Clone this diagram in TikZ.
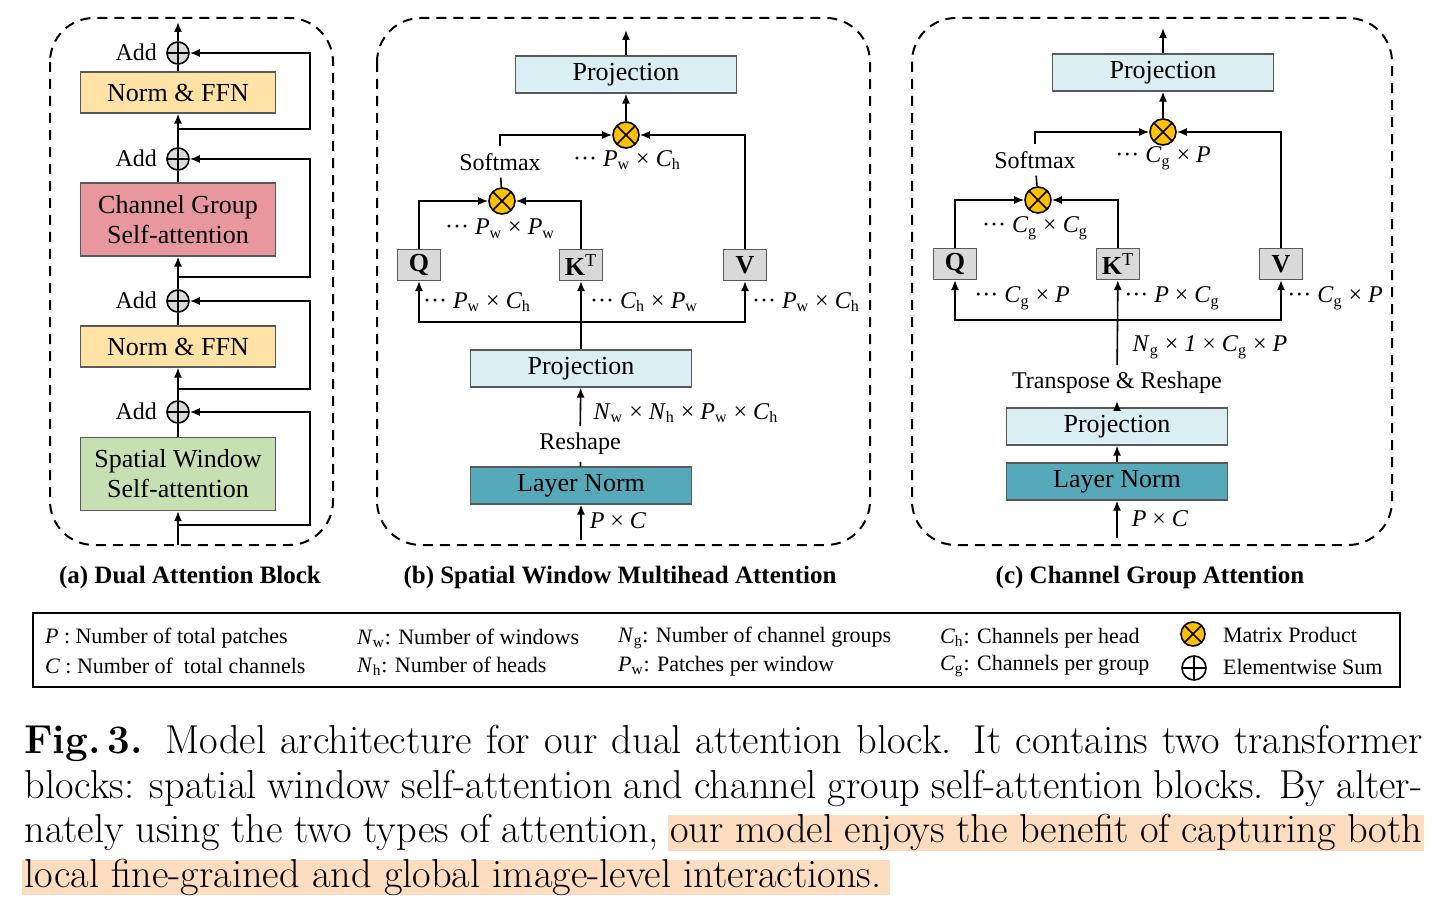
\documentclass[tikz,border=0pt]{standalone}
\usepackage{fontspec}
\usetikzlibrary{arrows.meta}
\setmainfont{Liberation Serif}
\newfontfamily\lmr{Latin Modern Roman}
\newcommand{\tms}{\rmfamily}
\definecolor{ffn}{HTML}{FFE3A6}
\definecolor{cga}{HTML}{E9979F}
\definecolor{swa}{HTML}{C6E0B4}
\definecolor{proj}{HTML}{DAEEF3}
\definecolor{lnorm}{HTML}{56A9B9}
\definecolor{qkv}{HTML}{D9D9D9}
\definecolor{mp}{HTML}{FFC000}
\definecolor{hl}{HTML}{FDDCBF}
\newcommand{\sbs}[2]{\textit{#1}\textsubscript{#2}}
\begin{document}
\begin{tikzpicture}[x=0.5pt,y=-0.5pt,
  every node/.style={font=\tms\fontsize{12}{14}\selectfont},
  box/.style={draw=black!65,line width=0.6pt,minimum width=97.5pt,minimum height=20.5pt,align=center,inner sep=0pt,font=\tms\fontsize{13}{15}\selectfont},
  tall/.style={box,minimum height=36.5pt},
  pbox/.style={box,fill=proj,minimum width=110.5pt,minimum height=18.5pt},
  lbox/.style={pbox,fill=lnorm},
  qk/.style={box,fill=qkv,minimum width=21.5pt,minimum height=15.5pt,font=\tms\bfseries\fontsize{13}{15}\selectfont},
  oplus/.style={circle,draw,line width=0.8pt,fill=qkv,minimum size=11pt,inner sep=0pt,
    path picture={\draw[line width=0.8pt] (path picture bounding box.north)--(path picture bounding box.south) (path picture bounding box.west)--(path picture bounding box.east);}},
  otimes/.style={circle,draw,line width=0.8pt,fill=mp,minimum size=13pt,inner sep=0pt,
    path picture={\draw[line width=0.8pt] (path picture bounding box.north west)--(path picture bounding box.south east) (path picture bounding box.south west)--(path picture bounding box.north east);}},
  ln/.style={line width=0.8pt},
  arr/.style={ln,-{Latex[length=5pt,width=4pt]}},
  dbox/.style={dashed,line width=1pt,dash pattern=on 5pt off 3.5pt,rounded corners=22pt}]
\useasboundingbox (0,0) rectangle (1440,909);
% ---------- panel a
\draw[dbox] (50,18) rectangle (333,545);
\node[box,fill=ffn] (a1) at (178,92.5) {Norm \& FFN};
\node[tall,fill=cga] (a2) at (178,219.5) {Channel Group\\Self-attention};
\node[box,fill=ffn] (a3) at (178,346.5) {Norm \& FFN};
\node[tall,fill=swa] (a4) at (178,474) {Spatial Window\\Self-attention};
\foreach \n/\y in {p1/53,p2/159,p3/301,p4/412}{
  \node[oplus] (\n) at (178,\y) {};
  \node[anchor=east,font=\tms\fontsize{12}{14}\selectfont] at (164,\y-1) {Add};}
\coordinate (aout) at (178,22); \coordinate (ain) at (178,545);
\coordinate (s1) at (178,129); \coordinate (s2) at (178,277);
\coordinate (s3) at (178,389); \coordinate (s4) at (178,525);
\draw[arr] (p1) -- (aout);
\draw[ln] (a1) -- (p1); \draw[arr] (p2) -- (a1);
\draw[ln] (a2) -- (p2); \draw[arr] (p3) -- (a2);
\draw[ln] (a3) -- (p3); \draw[arr] (p4) -- (a3);
\draw[ln] (a4) -- (p4); \draw[arr] (ain) -- (a4);
\draw[arr] (s1) -- ++(132,0) |- (p1.east);
\draw[arr] (s2) -- ++(132,0) |- (p2.east);
\draw[arr] (s3) -- ++(132,0) |- (p3.east);
\draw[arr] (s4) -- ++(132,0) |- (p4.east);
% ---------- panel b
\draw[dbox] (377,18) rectangle (870,545);
\node[pbox] (b1) at (626,74.5) {Projection};
\node[otimes] (bm1) at (626,135) {};
\node (bsm) at (500,162) {Softmax};
\node[otimes] (bm2) at (502,201) {};
\node[qk] (bq) at (419,265) {Q};
\node[qk] (bk) at (581,265) {K\textsuperscript{\mdseries T}};
\node[qk] (bv) at (745,265) {V};
\node[pbox] (b2) at (581,368.5) {Projection};
\node (brs) at (580,444) {Reshape};
\node[lbox] (b3) at (581,485.5) {Layer Norm};
\coordinate (bout) at (626,30); \coordinate (bin) at (581,540);
\coordinate (bj) at (581,322);
\draw[arr] (b1) -- (bout);
\draw[arr] (bm1) -- (b1);
\draw[arr] (bsm.north) |- (bm1.west);
\draw[arr] (bv.north) |- (bm1.east);
\draw[ln] (bm2) -- (bsm);
\draw[arr] (bq.north) |- (bm2.west);
\draw[arr] (bk.north) |- (bm2.east);
\draw[arr] (bj) -| (bq.south);
\draw[arr] (bj) -| (bv.south);
\draw[arr] (b2) -- (bk);
\draw[arr] (brs) -- (b2);
\draw[ln] (b3) -- (brs);
\draw[arr] (bin) -- (b3);
\node at (627,160) {··· \sbs{P}{w} × \sbs{C}{h}};
\node at (500,229) {··· \sbs{P}{w} × \sbs{P}{w}};
\node at (477,302) {··· \sbs{P}{w} × \sbs{C}{h}};
\node at (644,302) {··· \sbs{C}{h} × \sbs{P}{w}};
\node at (806,302) {··· \sbs{P}{w} × \sbs{C}{h}};
\node at (686,413) {\sbs{N}{w} × \sbs{N}{h} × \sbs{P}{w} × \sbs{C}{h}};
\node at (618,521) {\textit{P} × \textit{C}};
% ---------- panel c
\draw[dbox] (912,18) rectangle (1392,545);
\node[pbox] (c1) at (1163,72.5) {Projection};
\node[otimes] (cm1) at (1163,132) {};
\node (csm) at (1035,160) {Softmax};
\node[otimes] (cm2) at (1038,200) {};
\node[qk] (cq) at (955,264) {Q};
\node[qk] (ck) at (1118,264) {K\textsuperscript{\mdseries T}};
\node[qk] (cv) at (1281,264) {V};
\node (ctr) at (1117,383) {Transpose \& Reshape};
\node[pbox] (c2) at (1117,426.5) {Projection};
\node[lbox] (c3) at (1117,481.5) {Layer Norm};
\coordinate (cout) at (1163,28); \coordinate (cin) at (1117,538);
\coordinate (cj) at (1118,320);
\draw[arr] (c1) -- (cout);
\draw[arr] (cm1) -- (c1);
\draw[arr] (csm.north) |- (cm1.west);
\draw[arr] (cv.north) |- (cm1.east);
\draw[ln] (cm2) -- (csm);
\draw[arr] (cq.north) |- (cm2.west);
\draw[arr] (ck.north) |- (cm2.east);
\draw[arr] (cj) -| (cq.south);
\draw[arr] (cj) -| (cv.south);
\draw[arr] (ctr) -- (ck);
\draw[arr] (c2) -- (ctr);
\draw[arr] (c3) -- (c2);
\draw[arr] (cin) -- (c3);
\node at (1163,158) {··· \sbs{C}{g} × \textit{P}};
\node at (1035,228) {··· \sbs{C}{g} × \sbs{C}{g}};
\node at (1022,298) {··· \sbs{C}{g} × \textit{P}};
\node at (1172,298) {··· \textit{P} × \sbs{C}{g}};
\node at (1335,298) {··· \sbs{C}{g} × \textit{P}};
\node at (1210,347) {\sbs{N}{g} × \textit{1} × \sbs{C}{g} × \textit{P}};
\node at (1160,519) {\textit{P} × \textit{C}};
% ---------- panel captions
\begin{scope}[every node/.style={font=\tms\bfseries\fontsize{12.5}{14}\selectfont}]
\node (capa) at (190,577) {(a) Dual Attention Block};
\node (capb) at (620,577) {(b) Spatial Window Multihead Attention};
\node (capc) at (1150,577) {(c) Channel Group Attention};
\end{scope}
% ---------- legend
\draw[line width=0.7pt] (33,613) rectangle (1400,687);
\begin{scope}[every node/.style={anchor=west,font=\tms\fontsize{11}{13}\selectfont}]
\node at (38,638) {\textit{P} : Number of total patches};
\node at (38,666) {\textit{C} : Number of \ total channels};
\node at (350,638) {\sbs{N}{w}: Number of windows};
\node at (350,666) {\sbs{N}{h}: Number of heads};
\node at (611,638) {\sbs{N}{g}: Number of channel groups};
\node at (611,666) {\sbs{P}{w}: Patches per window};
\node at (933,638) {\sbs{C}{h}: Channels per head};
\node at (933,666) {\sbs{C}{g}: Channels per group};
\node at (1216,635) {Matrix Product};
\node at (1216,667) {Elementwise Sum};
\end{scope}
\node[otimes,minimum size=12pt] (lm) at (1193,634) {};
\node[oplus,fill=white,minimum size=12pt] (ls) at (1194,668) {};
% ---------- caption text
\fill[hl] (668,815) rectangle (1424,851);
\fill[hl] (22,860) rectangle (890,895);
\begin{scope}[every node/.style={anchor=west,inner sep=0pt,font=\lmr\fontsize{20.2}{22}\selectfont}]
\node at (24,743) {\hbox to 699pt{\textbf{Fig.\,3.} Model architecture for our dual attention block. It contains two transformer}};
\node at (24,788) {\hbox to 699pt{blocks: spatial window self-attention and channel group self-attention blocks. By alter-}};
\node at (24,832) {\hbox to 699pt{nately using the two types of attention, our model enjoys the benefit of capturing both}};
\node at (24,877) {local fine-grained and global image-level interactions.};
\end{scope}
\end{tikzpicture}
\end{document}
